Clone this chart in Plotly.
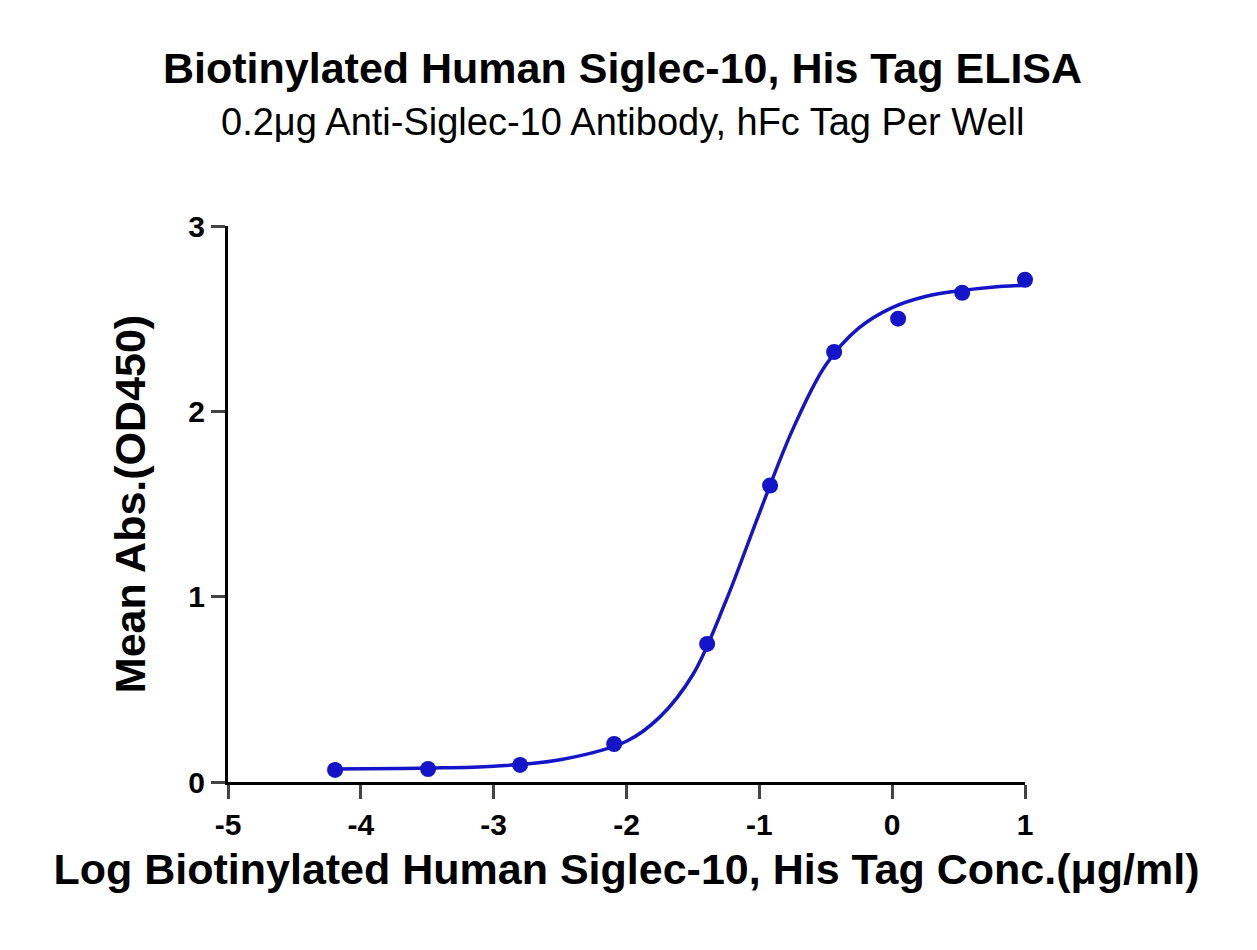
import plotly.graph_objects as go

log_conc = [-4.194, -3.494, -2.801, -2.093, -1.393, -0.919, -0.437, 0.045, 0.527, 1.0]
mean_abs = [0.065, 0.07, 0.092, 0.205, 0.745, 1.60, 2.32, 2.50, 2.64, 2.71]

curve_x = [-4.2, -3.5, -3.0, -2.5, -2.0, -1.75, -1.5, -1.25, -1.0, -0.75, -0.5, -0.25, 0.0, 0.25, 0.5, 0.75, 1.0]
curve_y = [0.07, 0.075, 0.085, 0.12, 0.22, 0.35, 0.58, 0.98, 1.45, 1.90, 2.25, 2.45, 2.56, 2.62, 2.65, 2.67, 2.68]

x_ticks = [-5, -4, -3, -2, -1, 0, 1]
x_labels = ["-5", "-4", "-3", "-2", "-1", "0", "1"]
y_ticks = [0, 1, 2, 3]
y_labels = ["0", "1", "2", "3"]

blue = "#1414c8"
font = "Liberation Sans, Arial, sans-serif"

fig = go.Figure()
fig.add_trace(go.Scatter(x=curve_x, y=curve_y, mode="lines", line=dict(color=blue, width=3.5, shape="spline"), hoverinfo="skip"))
fig.add_trace(go.Scatter(x=log_conc, y=mean_abs, mode="markers", marker=dict(color=blue, size=16), cliponaxis=False))

fig.update_layout(
    width=1257, height=950, showlegend=False,
    paper_bgcolor="white", plot_bgcolor="white",
    margin=dict(l=220, r=240, t=218, b=176),
    font=dict(family=font, color="black"),
)
fig.add_annotation(text="<b>Biotinylated Human Siglec-10, His Tag ELISA</b>", xref="paper", yref="paper",
                   x=0.495, y=1 + (226 - 68) / 556, showarrow=False, font=dict(size=43), yanchor="middle")
fig.add_annotation(text="0.2μg Anti-Siglec-10 Antibody, hFc Tag Per Well", xref="paper", yref="paper",
                   x=0.495, y=1 + (226 - 122) / 556, showarrow=False, font=dict(size=38), yanchor="middle")

fig.update_xaxes(range=[-5, 1], tickvals=x_ticks, ticktext=x_labels, showgrid=False, zeroline=False,
                 showline=True, linecolor="black", linewidth=3, ticks="outside", ticklen=14, tickwidth=3,
                 tickfont=dict(size=30, family=font, weight="bold"),
                 title=dict(text="<b>Log Biotinylated Human Siglec-10, His Tag Conc.(μg/ml)</b>", font=dict(size=43), standoff=14))
fig.update_yaxes(range=[0, 3], tickvals=y_ticks, ticktext=y_labels, showgrid=False, zeroline=False,
                 showline=True, linecolor="black", linewidth=3, ticks="outside", ticklen=14, tickwidth=3,
                 tickfont=dict(size=30, family=font, weight="bold"),
                 title=dict(text="<b>Mean Abs.(OD450)</b>", font=dict(size=43), standoff=30))

fig.write_html("out.html")
